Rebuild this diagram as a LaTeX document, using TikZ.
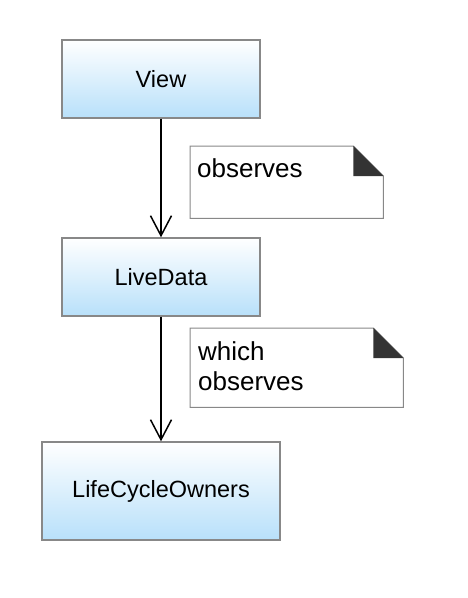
\documentclass[tikz,border=0pt]{standalone}
\usepackage{fontspec}
\setmainfont{Liberation Sans}
\usetikzlibrary{arrows.meta, calc}
\definecolor{boxline}{RGB}{136,136,136}
\definecolor{boxblue}{RGB}{184,224,250}
\definecolor{folddark}{RGB}{51,51,51}

\begin{document}
\begin{tikzpicture}[x=1pt, y=-1pt,
    classbox/.style={draw=boxline, line width=1.4pt, top color=white, bottom color=boxblue,
        font=\fontsize{23.5}{28}\selectfont, inner sep=0pt},
    notebox/.style={inner sep=0pt},
    notetext/.style={font=\fontsize{26}{30}\selectfont, align=left, inner sep=0pt},
    link/.style={line width=1.5pt, -{Straight Barb[length=20pt, width=21pt, line width=1.5pt]}}]
\useasboundingbox (0,0) rectangle (468,598);

% classes
\node[classbox, minimum width=198pt, minimum height=78pt] (view) at (161,79) {View};
\node[classbox, minimum width=198pt, minimum height=78pt] (livedata) at (161,277) {LiveData};
\node[classbox, minimum width=238pt, minimum height=98pt] (owners) at (161,491) {LifeCycleOwners};

% notes
\node[notebox, minimum width=193pt, minimum height=72pt, anchor=north west] (obsnote) at (190,146) {};
\node[notebox, minimum width=213pt, minimum height=79pt, anchor=north west] (whichnote) at (190,328) {};
\foreach \n in {obsnote, whichnote} {
    \draw[boxline, line width=1pt, fill=white] (\n.north west) -- ($(\n.north east)+(-30,0)$)
        -- ($(\n.north east)+(0,30)$) -- (\n.south east) -- (\n.south west) -- cycle;
    \fill[folddark] ($(\n.north east)+(-30,0)$) -- ($(\n.north east)+(-30,30)$)
        -- ($(\n.north east)+(0,30)$) -- cycle;
}
\node[notetext, anchor=base west] (obslabel) at ($(obsnote.north west)+(7,31)$) {observes};
\node[notetext, anchor=north west] (whichlabel) at ($(whichnote.north west)+(8,13)$) {which\\observes};

% connectors
\draw[link] (view) -- (livedata);
\draw[link] (livedata) -- (owners);
\end{tikzpicture}
\end{document}
